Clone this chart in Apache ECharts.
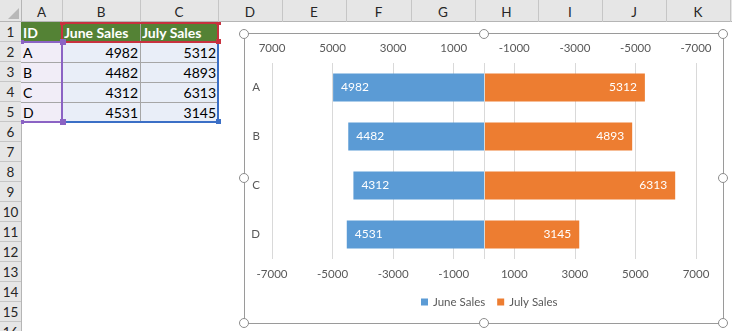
<!DOCTYPE html>
<html><head><meta charset="utf-8">
<script src="https://cdn.jsdelivr.net/npm/echarts@6/dist/echarts.min.js"></script>
<style>
html,body{margin:0;padding:0;width:732px;height:331px;overflow:hidden;background:#fff;font-family:Lato,'Noto Sans',sans-serif;}
.a{position:absolute;box-sizing:border-box;}
</style></head><body>
<div id="sheet"></div>
<div class="a" style="left:244px;top:33px;width:480px;height:291px;border:1px solid #9a9a9a;background:#fff"></div>
<div id="chart" class="a" style="left:0;top:0;width:732px;height:331px"></div>
<div id="handles"></div>
<script>
// ---- data ----
const categories = ['A', 'B', 'C', 'D'];
const juneSales = [4982, 4482, 4312, 4531];
const julySales = [5312, 4893, 6313, 3145];
const headers = ['ID', 'June Sales', 'July Sales'];
const seriesNames = ['June Sales', 'July Sales'];
const tickLabels = [-7000, -5000, -3000, -1000, 1000, 3000, 5000, 7000];
const columnLetters = ['A', 'B', 'C', 'D', 'E', 'F', 'G', 'H', 'I', 'J', 'K'];

// ---- spreadsheet (HTML) ----
const sheet = document.getElementById('sheet');
function box(x, y, w, h, css, text) {
  const d = document.createElement('div');
  d.className = 'a';
  d.style.cssText = `left:${x}px;top:${y}px;width:${w}px;height:${h}px;` + (css || '');
  if (text !== undefined) d.textContent = text;
  sheet.appendChild(d);
  return d;
}
const colX = [21, 62, 140, 218, 282, 346, 411, 475, 538, 602, 666, 730];
const rowY0 = 22, rowH = 20, nRows = 16;
// header backgrounds
box(0, 0, 732, 22, 'background:#e6e6e6;border-bottom:1px solid #b5b5b5');
box(0, 0, 22, 331, 'background:#e6e6e6;border-right:1px solid #b5b5b5');
box(0, 0, 22, 22, 'background:#e6e6e6;border-right:1px solid #b5b5b5;border-bottom:1px solid #b5b5b5');
box(8, 8, 0, 0, 'border-left:11px solid transparent;border-bottom:11px solid #b8b8b8');
for (let i = 0; i < columnLetters.length; i++) {
  box(colX[i + 1], 0, 1, 22, 'background:#c6c6c6');
  box(colX[i], 1, colX[i + 1] - colX[i], 21, 'text-align:center;line-height:22px;font-size:13.5px;color:#262626', columnLetters[i]);
}
for (let r = 1; r <= nRows; r++) {
  const y = rowY0 + (r - 1) * rowH;
  box(0, y + rowH - 1, 21, 1, 'background:#c6c6c6');
  box(0, y, 21, rowH, 'text-align:center;line-height:20px;font-size:13.5px;color:#262626', String(r));
}
// header row
box(21, 22, 197, 20, 'background:#548235');
headers.forEach((h, i) => {
  box(colX[i] + 2, 22, colX[i + 1] - colX[i] - 3, 20, 'color:#fff;font-weight:bold;font-size:14px;line-height:21px;white-space:nowrap;overflow:hidden', h);
});
// data rows
categories.forEach((c, i) => {
  const y = 42 + i * rowH;
  box(21, y, 41, 20, 'background:#f1edf7');
  box(62, y, 156, 20, 'background:#e9eef8');
  box(23, y, 38, 20, 'color:#000;font-size:14px;line-height:21px', c);
  box(62, y, 76, 20, 'color:#000;font-size:14px;line-height:21px;text-align:right', String(juneSales[i]));
  box(140, y, 76, 20, 'color:#000;font-size:14px;line-height:21px;text-align:right', String(julySales[i]));
  if (i > 0) box(21, y, 197, 1, 'background:#a6a6a6');
});
box(140, 22, 1, 100, 'background:#a6a6a6');
// range highlights
const purple = '#8b63c4', red = '#c8323f', blue = '#3b6fc6';
box(22, 41, 40, 2, 'background:' + purple);
box(22, 121, 40, 2, 'background:' + purple);
box(61, 42, 2, 80, 'background:' + purple);
box(21, 40, 3, 4, 'background:' + purple);
box(21, 120, 3, 4, 'background:' + purple);
box(62, 22, 156, 2, 'background:' + red);
box(62, 41, 156, 2, 'background:' + red);
box(61, 22, 2, 20, 'background:' + red);
box(217, 22, 2, 20, 'background:' + red);
box(60, 22, 5, 3, 'background:' + red);
box(216, 22, 5, 3, 'background:' + red);
box(216, 39, 5, 5, 'background:' + red);
box(217, 44, 2, 78, 'background:' + blue);
box(66, 121, 152, 2, 'background:' + blue);
box(216, 119, 5, 5, 'background:' + blue);
box(60, 39, 6, 6, 'background:' + purple);
box(60, 119, 6, 6, 'background:' + purple);

// ---- chart ----
const chart = echarts.init(document.getElementById('chart'), null, { renderer: 'canvas' });
const axisLabelStyle = {
  color: '#595959', fontSize: 11.5, fontFamily: 'Lato', margin: 9, customValues: tickLabels,
  formatter: v => String(v)
};
chart.setOption({
  animation: false,
  backgroundColor: 'transparent',
  textStyle: { fontFamily: 'Lato' },
  grid: { left: 272, top: 63, width: 424, height: 196 },
  xAxis: [
    {
      type: 'value', position: 'bottom', min: -7000, max: 7000,
      axisLine: { show: false },
      axisTick: { show: false, customValues: tickLabels.concat([0]) },
      axisLabel: axisLabelStyle,
      splitLine: { show: true, lineStyle: { color: '#d9d9d9', width: 1 } }
    },
    {
      type: 'value', position: 'top', inverse: true, min: -7000, max: 7000,
      axisLine: { show: false },
      axisTick: { show: false, customValues: tickLabels },
      axisLabel: axisLabelStyle,
      splitLine: { show: false }
    }
  ],
  yAxis: {
    type: 'category', data: categories, inverse: true,
    axisLine: { show: false }, axisTick: { show: false },
    axisLabel: { color: '#595959', fontSize: 11.5, fontFamily: 'Lato', margin: 12 },
    splitLine: { show: false }
  },
  legend: {
    data: seriesNames, left: 421, top: 296, padding: 0,
    icon: 'rect', itemWidth: 7, itemHeight: 7, itemGap: 12,
    textStyle: { color: '#595959', fontSize: 11.5, fontFamily: 'Lato' }
  },
  series: [
    {
      name: seriesNames[0], type: 'bar', xAxisIndex: 1, data: juneSales,
      barWidth: 28, barGap: '-100%',
      itemStyle: { color: '#5b9bd5' },
      label: { show: true, position: 'insideLeft', distance: 8, color: '#fff', fontSize: 12, fontFamily: 'Lato' }
    },
    {
      name: seriesNames[1], type: 'bar', xAxisIndex: 0, data: julySales,
      barWidth: 28, barGap: '-100%',
      itemStyle: { color: '#ed7d31' },
      label: { show: true, position: 'insideRight', distance: 8, color: '#fff', fontSize: 12, fontFamily: 'Lato' },
      markLine: {
        silent: true, symbol: 'none', label: { show: false },
        lineStyle: { color: '#d9d9d9', width: 1, type: 'solid' },
        data: [{ xAxis: 0 }]
      }
    }
  ]
});

// ---- selection handles ----
const hs = document.getElementById('handles');
[[244, 33.5], [483.5, 33.5], [723, 33.5], [244, 178], [723, 178], [244, 323], [483.5, 323], [723, 323]].forEach(p => {
  const d = document.createElement('div');
  d.className = 'a';
  d.style.cssText = `left:${p[0] - 5}px;top:${p[1] - 5}px;width:10px;height:10px;border-radius:50%;border:1.6px solid #8c8c8c;background:#fff`;
  hs.appendChild(d);
});
</script>
</body></html>
